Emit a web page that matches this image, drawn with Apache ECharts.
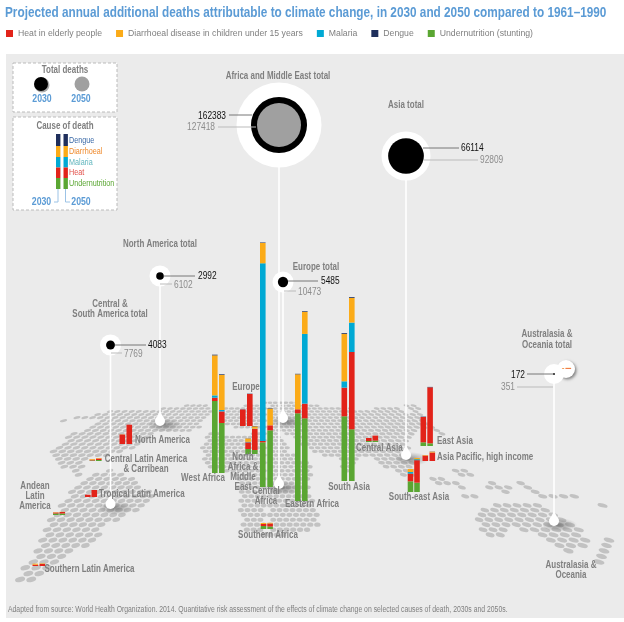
<!DOCTYPE html>
<html>
<head>
<meta charset="utf-8">
<title>Climate change deaths</title>
<script src="https://cdn.jsdelivr.net/npm/echarts@6/dist/echarts.min.js"></script>
<style>
  html, body { margin: 0; padding: 0; background: #fff; }
  #chart { width: 624px; height: 622px; }
</style>
</head>
<body>
<div id="chart"></div>
<script>
// regions, same order in every value array below
var regions = ['West Africa', 'Europe', 'North Africa & Middle East', 'Central Africa', 'Eastern Africa',
  'Southern Africa', 'South Asia', 'Central Asia', 'East Asia', 'Asia Pacific, high income', 'South-east Asia',
  'North America', 'Central Latin America', 'Tropical Latin America', 'Andean Latin America',
  'Southern Latin America', 'Australasia & Oceania'];

// deaths per cause
var undernutrition2030 = [23040, 0, 1600, 14300, 28060, 960, 20700, 320, 1180, 0, 3420, 0, 190, 0, 480, 0, 0];
var undernutrition2050 = [16000, 0, 1280, 18140, 26460, 800, 16540, 450, 860, 0, 2980, 0, 320, 0, 480, 0, 0];
var heat2030 = [1060, 5280, 2140, 420, 1280, 640, 9180, 960, 8100, 1760, 2460, 3040, 220, 740, 320, 420, 160];
var heat2050 = [3710, 10240, 6720, 1600, 4700, 960, 24740, 1600, 17920, 2720, 7200, 6180, 480, 2240, 480, 640, 220];
var malaria2030 = [740, 0, 160, 56860, 0, 0, 2020, 0, 0, 0, 510, 0, 0, 0, 0, 0, 0];
var malaria2050 = [450, 0, 100, 0, 22300, 0, 9410, 0, 0, 0, 320, 0, 0, 0, 0, 0, 0];
var diarrhoea2030 = [12800, 0, 1060, 6500, 11200, 320, 15140, 0, 0, 160, 960, 60, 220, 0, 100, 320, 160];
var diarrhoea2050 = [11200, 0, 740, 5340, 7040, 220, 7870, 0, 0, 260, 380, 0, 160, 0, 60, 160, 160];
var dengue2030 = [220, 60, 60, 160, 160, 0, 260, 0, 130, 0, 0, 0, 0, 0, 0, 0, 0];
var dengue2050 = [220, 100, 100, 130, 220, 0, 260, 0, 130, 60, 0, 0, 0, 0, 0, 0, 0];

// totals printed next to the discs
var totalNames = ['Africa', 'Asia', 'Europe', 'North America', 'Central & South America', 'Australasia'];
var total2030 = [162383, 66114, 5485, 2992, 4083, 172];
var total2050 = [127418, 92809, 10473, 6102, 7769, 351];

// ---- layout only from here on ----
var DEATHS_PER_PX = 320;
var BAR_W = 5.6;
// [x of 2030 bar, x of 2050 bar, y of bar foot]
var barFeet = [[212, 219, 473], [240, 247, 426], [245.3, 252, 454], [260, 267.3, 487], [295, 302, 501],
  [260.7, 267.3, 529], [341.5, 349, 481], [366, 372.5, 442], [420.5, 427.3, 446], [422.5, 429.5, 461],
  [407.7, 414.2, 492], [119.5, 126.5, 444], [89.5, 96, 461], [85, 91.5, 497], [53, 59.5, 515],
  [32.5, 39.5, 566], [558.5, 565.5, 369]];
// [disc x, disc y, halo diameter, pin y]
var discs = [[279, 125, 85, 484], [406, 156, 49, 455], [283, 282, 21, 418],
  [160, 276, 21, 421], [110.5, 345, 21, 504], [554, 374, 20, 521]];

var causes = [
  { name: 'Undernutrition (stunting)', color: '#5aa632', v: [undernutrition2030, undernutrition2050] },
  { name: 'Heat in elderly people', color: '#e2231a', v: [heat2030, heat2050] },
  { name: 'Malaria', color: '#00a9d4', v: [malaria2030, malaria2050] },
  { name: 'Diarrhoeal disease in children under 15 years', color: '#fbab18', v: [diarrhoea2030, diarrhoea2050] },
  { name: 'Dengue', color: '#1f2f5c', v: [dengue2030, dengue2050] }
];

// land outlines for the dotted map backdrop
function strip(x0, y0, x1, y1, h) {
  return [[x0, y0 - h], [x1, y1 - h], [x1, y1 + h], [x0, y0 + h]];
}
var land = [
  [[50, 422], [100, 413], [110, 409], [157, 409], [207, 403], [213, 410], [197, 430], [157, 433], [140, 447],
    [113, 455], [90, 457], [80, 477], [63, 467], [50, 455], [60, 443], [73, 433], [90, 427], [100, 418]],
  [[110, 470], [133, 477], [137, 487], [157, 490], [147, 507], [133, 513], [110, 523], [93, 543], [60, 560],
    [37, 580], [20, 583], [20, 573], [33, 560], [43, 533], [57, 507], [73, 490], [93, 473]],
  [[223, 408], [260, 403], [280, 400], [313, 405], [340, 407], [367, 410], [393, 406], [407, 412], [420, 413],
    [433, 428], [420, 430], [412, 440], [407, 450], [412, 462], [420, 473], [412, 480], [397, 473], [380, 465],
    [370, 455], [357, 458], [347, 472], [335, 458], [320, 455], [300, 445], [290, 435], [280, 432], [257, 428],
    [235, 430], [222, 422]],
  [[210, 432], [233, 435], [280, 432], [290, 452], [313, 465], [310, 490], [322, 525], [300, 533], [267, 537],
    [243, 530], [240, 508], [238, 480], [228, 472], [207, 468], [200, 450]],
  [[480, 508], [500, 502], [533, 502], [550, 512], [580, 525], [587, 542], [577, 553], [557, 550], [533, 535],
    [510, 528], [500, 538], [487, 535], [472, 518]],
  strip(452, 467, 473, 478, 3), strip(430, 475, 450, 487, 3), strip(453, 482, 467, 490, 3),
  strip(463, 497, 483, 498, 2.5), strip(483, 484, 513, 492, 3.5), strip(517, 484, 543, 494, 3),
  strip(540, 496, 577, 497, 2), strip(595, 503, 608, 510, 3), strip(597, 565, 612, 540, 5),
  strip(425, 420, 445, 438, 3), strip(405, 406, 420, 410, 3)
];

function inside(pt, poly) {
  var hit = false;
  for (var i = 0, j = poly.length - 1; i < poly.length; j = i++) {
    if ((poly[i][1] > pt[1]) !== (poly[j][1] > pt[1]) &&
      pt[0] < (poly[j][0] - poly[i][0]) * (pt[1] - poly[i][1]) / (poly[j][1] - poly[i][1]) + poly[i][0]) {
      hit = !hit;
    }
  }
  return hit;
}

// rows get wider apart towards the viewer, dots flatten and tilt away from the centre
function mapDots() {
  var dots = [], odd = false;
  for (var y = 400; y < 590; y += 2.8 + (y - 400) * 0.018) {
    var row = 2.8 + (y - 400) * 0.018;
    var base = 5.2 + (y - 400) * 0.01;
    odd = !odd;
    [1, -1].forEach(function (dir) {
      var x = 270 + (odd ? base / 2 : 0) * dir + (dir < 0 ? -base : 0);
      while (x > 0 && x < 624) {
        var off = Math.abs(x - 270);
        var step = base * (1 + off / 400);
        for (var k = 0; k < land.length; k++) {
          if (inside([x, y], land[k])) {
            var tilt = Math.max(-14, Math.min(14, -(x - 270) * 0.09));
            dots.push([x, y, step * 0.9, row * 0.85, tilt]);
            break;
          }
        }
        x += step * dir;
      }
    });
  }
  return dots;
}

function causeSeries(c, idx) {
  var data = [];
  regions.forEach(function (r, i) {
    [0, 1].forEach(function (y) {
      var below = 0;
      for (var k = 0; k < idx; k++) below += causes[k].v[y][i];
      if (c.v[y][i] > 0) data.push([i, y, c.v[y][i], below]);
    });
  });
  return {
    type: 'custom',
    name: c.name,
    yAxisIndex: 1,
    z: 3,
    silent: true,
    itemStyle: { color: c.color },
    data: data,
    renderItem: function (params, api) {
      var foot = barFeet[api.value(0)];
      var h = api.size([0, api.value(2)])[1];
      var under = api.size([0, api.value(3)])[1];
      return {
        type: 'rect',
        shape: { x: foot[api.value(1)], y: foot[2] - under - h, width: BAR_W, height: h },
        style: { fill: c.color }
      };
    }
  };
}

var GREY = '#7f7f7f', BLUE = '#5b9bd5';
var SANS = '"Liberation Sans", sans-serif';
var els = [];
// no narrow face is installed, so squeeze the text horizontally
function txt(s, x, y, o) {
  o = o || {};
  els.push({
    type: 'text', z: 100, silent: true, x: x, y: y, scaleX: o.squeeze || 0.76,
    style: {
      text: s, fill: o.color || GREY, align: o.align || 'center', verticalAlign: 'middle', lineHeight: o.lh || 10,
      font: (o.bold === false ? '' : 'bold ') + (o.size || 10.5) + 'px ' + SANS
    }
  });
}
function seg(pts, color) {
  els.push({ type: 'polyline', z: 100, silent: true, shape: { points: pts }, style: { stroke: color || '#999', lineWidth: 1, fill: null } });
}
function box(x, y, w, h, fill, z) {
  els.push({ type: 'rect', z: z || 50, silent: true, shape: { x: x, y: y, width: w, height: h }, style: { fill: fill } });
}

// grey panel
els.push({ type: 'rect', z: 0, silent: true, shape: { x: 6, y: 54, width: 618, height: 564 }, style: { fill: '#ebebeb' } });
// key boxes
[[13, 63, 104, 49], [13, 117, 104, 93]].forEach(function (b) {
  els.push({ type: 'rect', z: 50, silent: true, shape: { x: b[0], y: b[1], width: b[2], height: b[3] },
    style: { fill: '#fff', stroke: '#bbb', lineWidth: 1, lineDash: [3, 2] } });
});
txt('Total deaths', 65, 70);
els.push({ type: 'circle', z: 60, silent: true, shape: { cx: 42, cy: 85, r: 7.5 }, style: { fill: '#aaa' } });
els.push({ type: 'circle', z: 61, silent: true, shape: { cx: 41, cy: 84, r: 7 }, style: { fill: '#000' } });
els.push({ type: 'circle', z: 61, silent: true, shape: { cx: 82, cy: 84, r: 7.5 }, style: { fill: '#a0a0a0' } });
txt('2030', 42, 99, { color: BLUE, size: 11.5 });
txt('2050', 81, 99, { color: BLUE, size: 11.5 });
txt('Cause of death', 65, 126);
var keyRows = [['Dengue', '#1f2f5c', 134, 12, '#3b6aa8'], ['Diarrhoeal', '#fbab18', 146, 11, '#ef8a2c'],
  ['Malaria', '#00a9d4', 157, 10.5, '#5fb5bd'], ['Heat', '#e2231a', 167.5, 10.5, '#e2504a'], ['Undernutrition', '#5aa632', 178, 11, '#5aa632']];
keyRows.forEach(function (k) {
  box(56, k[2], 4.4, k[3], k[1], 60);
  box(63.5, k[2], 4.4, k[3], k[1], 60);
  txt(k[0], 69, k[2] + k[3] / 2, { align: 'left', color: k[4], bold: false, size: 9.5 });
});
seg([[58, 189], [58, 202], [54, 202]], '#9cc3e6');
seg([[65.5, 189], [65.5, 202], [70, 202]], '#9cc3e6');
txt('2030', 41.5, 202, { color: BLUE, size: 11.5 });
txt('2050', 81, 202, { color: BLUE, size: 11.5 });

// totals and their leader lines
txt('Africa and Middle East total', 278, 76);
txt('Asia total', 406, 105);
txt('North America total', 160, 244);
txt('Europe total', 316, 267);
txt('Central &\nSouth America total', 110, 309);
txt('Australasia &\nOceania total', 547, 340, { lh: 11 });
var DARK = '#111', LIGHT = '#8c8c8c';
var totalLabels = [
  [[226, 116, 'right'], [215, 127, 'right'], [[[229, 115], [252, 115]]], [[[218, 127], [256, 127]]]],
  [[461, 148, 'left'], [480, 160, 'left'], [[[423, 148], [459, 148]]], [[[424, 160], [478, 160]]]],
  [[321, 281, 'left'], [298, 292, 'left'], [[[288, 281], [318, 281]]], [[[284, 291], [296, 291]]]],
  [[198, 276, 'left'], [174, 285, 'left'], [[[164, 276], [195, 276]]], [[[160, 284], [172, 284]]]],
  [[148, 345, 'left'], [124, 354, 'left'], [[[115, 345], [146, 345]]], [[[111, 353], [122, 353]]]],
  [[525, 375, 'right'], [515, 387, 'right'], [[[527, 374], [553, 374]]], [[[517, 387], [553, 387]]]]
];
totalLabels.forEach(function (t, i) {
  txt(String(total2030[i]), t[0][0], t[0][1], { align: t[0][2], color: DARK, bold: false, size: 11 });
  txt(String(total2050[i]), t[1][0], t[1][1], { align: t[1][2], color: LIGHT, bold: false, size: 11 });
  seg(t[2][0], '#777');
  seg(t[3][0], '#bbb');
});

// region names
var leftNames = [['North America', 135, 440], ['Tropical Latin America', 99, 494], ['Southern Latin America', 44.5, 569],
  ['Central Asia', 356, 448], ['East Asia', 437, 441], ['Asia Pacific, high income', 437, 457]];
leftNames.forEach(function (n) { txt(n[0], n[1], n[2], { align: 'left' }); });
var midNames = [['Central Latin America\n& Carribean', 146, 464.5], ['West Africa', 203, 478], ['Andean\nLatin\nAmerica', 35, 496.5],
  ['Europe', 246, 387], ['North\nAfrica &\nMiddle\nEast', 243, 472.5], ['Central\nAfrica', 266, 496.5], ['Eastern Africa', 312, 504],
  ['Southern Africa', 268, 535], ['South Asia', 349, 487], ['South-east Asia', 419, 497], ['Australasia &\nOceania', 571, 570.5]];
midNames.forEach(function (n) { txt(n[0], n[1], n[2]); });

txt('Adapted from source: World Health Organization. 2014. Quantitative risk assessment of the effects of climate change on selected causes of death, 2030s and 2050s.',
  8, 610, { align: 'left', bold: false, size: 8.5, squeeze: 0.805 });
txt('Projected annual additional deaths attributable to climate change, in 2030 and 2050 compared to 1961\u20131990',
  5, 13, { align: 'left', color: BLUE, size: 15, squeeze: 0.785 });

var chart = echarts.init(document.getElementById('chart'));
var series = [
  {
    type: 'scatter', silent: true, z: 1, xAxisIndex: 0, yAxisIndex: 0, data: mapDots(),
    symbol: 'circle',
    symbolSize: function (v) { return [v[2], v[3]]; },
    symbolRotate: function (v) { return v[4]; },
    itemStyle: { color: '#c2c2c2', opacity: 1 }
  },
  {
    // pin shadows
    type: 'scatter', silent: true, z: 1, yAxisIndex: 0, symbolSize: [38, 14],
    data: discs.map(function (d) { return [d[0] + 8, d[3] + 4]; }),
    itemStyle: {
      opacity: 1,
      color: { type: 'radial', x: 0.4, y: 0.5, r: 0.5, colorStops: [{ offset: 0, color: 'rgba(90,90,90,0.65)' }, { offset: 1, color: 'rgba(120,120,120,0)' }] }
    }
  },
  {
    // stems and pins
    type: 'custom', silent: true, z: 2, yAxisIndex: 0,
    data: discs.map(function (d) { return [d[0], d[1], d[3]]; }),
    renderItem: function (params, api) {
      var top = api.coord([api.value(0), api.value(1)]);
      var foot = api.coord([api.value(0), api.value(2)]);
      return {
        type: 'group',
        children: [
          { type: 'line', shape: { x1: top[0], y1: top[1], x2: foot[0], y2: foot[1] }, style: { stroke: '#fff', lineWidth: 1.6 } },
          { type: 'polygon', shape: { points: [[foot[0], foot[1] - 10], [foot[0] - 4.5, foot[1] - 1], [foot[0] + 4.5, foot[1] - 1]] }, style: { fill: '#fff' } },
          { type: 'circle', shape: { cx: foot[0], cy: foot[1], r: 5 }, style: { fill: '#fff' } }
        ]
      };
    }
  },
  {
    // white halos behind the discs
    type: 'scatter', silent: true, z: 4, yAxisIndex: 0,
    data: discs.map(function (d) { return [d[0], d[1], d[2]]; }),
    symbolSize: function (v) { return v[2]; },
    itemStyle: { color: '#fff', opacity: 1 }
  },
  {
    // tiny Australasia bars sit on their own halo
    type: 'scatter', silent: true, z: 2.5, yAxisIndex: 0, symbolSize: 18,
    data: [[566, 369]],
    itemStyle: { color: '#fff', opacity: 1, shadowColor: 'rgba(0,0,0,0.45)', shadowBlur: 3, shadowOffsetX: 1.5, shadowOffsetY: 1.5 }
  },
  {
    // 2030 discs, area follows the total
    type: 'scatter', silent: true, z: 5, yAxisIndex: 0,
    data: discs.map(function (d, i) { return [d[0], d[1], total2030[i]]; }),
    symbolSize: function (v) { return 2 * Math.sqrt(v[2] / 207); },
    itemStyle: { color: '#000', opacity: 1 }
  },
  {
    // 2050 disc, shown only where it fits inside the 2030 one
    type: 'scatter', silent: true, z: 6, yAxisIndex: 0,
    data: discs.map(function (d, i) { return [d[0], d[1], total2030[i], total2050[i]]; })
      .filter(function (r) { return r[3] < r[2]; }),
    symbolSize: function (v) { return 2 * Math.sqrt(v[2] / 207) * v[3] / v[2]; },
    itemStyle: { color: '#a0a0a0', opacity: 1 }
  }
].concat(causes.map(causeSeries));

chart.setOption({
  animation: false,
  backgroundColor: '#fff',
  tooltip: { show: false },
  legend: {
    left: 6, top: 29, padding: 0, icon: 'rect', itemWidth: 7, itemHeight: 7, itemGap: 14, selectedMode: false,
    textStyle: { color: GREY, fontSize: 8.7, fontFamily: SANS },
    data: ['Heat in elderly people', 'Diarrhoeal disease in children under 15 years', 'Malaria', 'Dengue', 'Undernutrition (stunting)']
  },
  grid: { left: 0, right: 0, top: 0, bottom: 0 },
  xAxis: { type: 'value', min: 0, max: 624, show: false },
  yAxis: [
    { type: 'value', min: 0, max: 622, inverse: true, show: false },
    { type: 'value', min: 0, max: 622 * DEATHS_PER_PX, show: false }
  ],
  graphic: { elements: els },
  series: series
});
</script>
</body>
</html>
